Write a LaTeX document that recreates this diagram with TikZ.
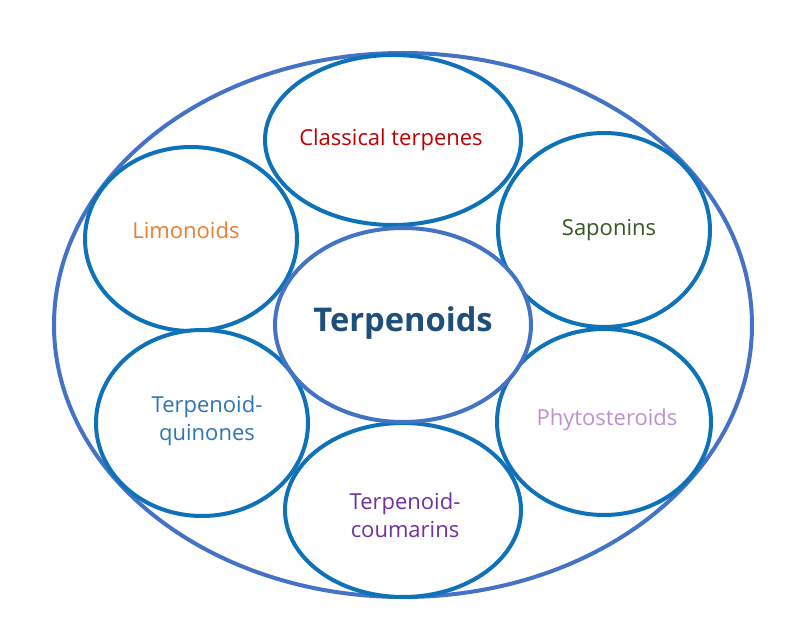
\documentclass[tikz,border=0pt]{standalone}
\usepackage{fontspec}
\setmainfont{Open Sans}
\usetikzlibrary{shapes.geometric}
\definecolor{outerb}{HTML}{4472C4}
\definecolor{innerb}{HTML}{0E72B8}
\definecolor{cR}{HTML}{C00000}
\definecolor{cO}{RGB}{237,125,49}
\definecolor{cG}{RGB}{55,86,35}
\definecolor{cT}{RGB}{31,78,121}
\definecolor{cB}{RGB}{46,117,182}
\definecolor{cP}{RGB}{190,145,205}
\definecolor{cV}{RGB}{112,48,160}
\begin{document}
\begin{tikzpicture}[x=0.75pt,y=-0.75pt,
  ell/.style={draw=innerb,line width=3pt,fill=white},
  lab/.style={font=\fontsize{16.5}{21}\selectfont,align=center}]
\useasboundingbox (0,0) rectangle (792,630);
\draw[outerb,line width=3pt] (403,325) ellipse [x radius=349, y radius=272];
\draw[ell] (393,140) ellipse [x radius=128, y radius=85];
\draw[ell] (191,239) ellipse [x radius=106, y radius=92];
\draw[ell] (604,230) ellipse [x radius=106, y radius=97];
\draw[ell] (202,423) ellipse [x radius=106, y radius=93];
\draw[ell] (604,422) ellipse [x radius=107, y radius=93];
\draw[ell] (403,510) ellipse [x radius=118, y radius=87];
\draw[ell,draw=outerb] (403,325) ellipse [x radius=128, y radius=97];
\node[lab,text=cR] (c) at (391,140) {Classical terpenes};
\node[lab,text=cO] (l) at (186,230) {Limonoids};
\node[lab,text=cG] (s) at (609,230) {Saponins};
\node[font=\fontsize{24.5}{28}\selectfont\bfseries,text=cT] (t) at (403,323) {Terpenoids};
\node[lab,text=cB] (q) at (207,421) {Terpenoid-\\quinones};
\node[lab,text=cP] (p) at (607,420) {Phytosteroids};
\node[lab,text=cV] (m) at (405,515) {Terpenoid-\\coumarins};
\end{tikzpicture}
\end{document}
